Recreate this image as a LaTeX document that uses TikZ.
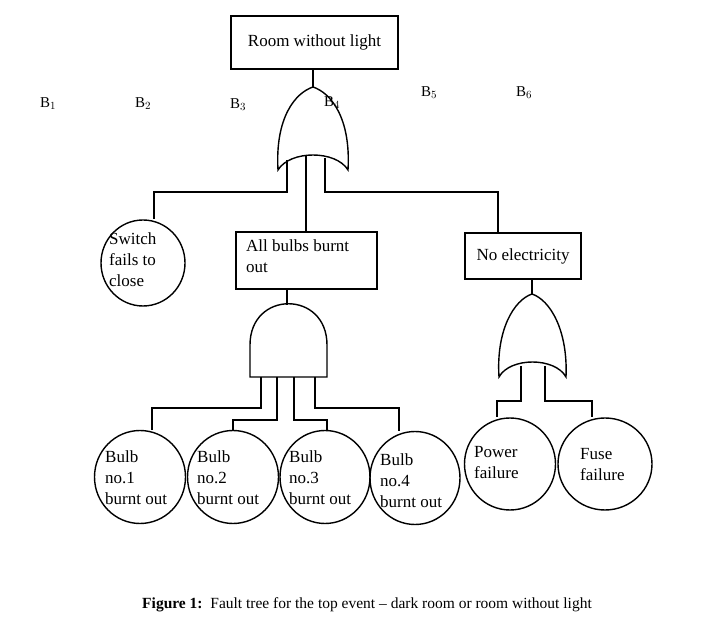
\documentclass[tikz,border=0pt]{standalone}
\usepackage{fontspec}
\setmainfont{Liberation Serif}
\usetikzlibrary{shapes.geometric}
\begin{document}
\begin{tikzpicture}[x=1pt,y=-1pt,
  ev/.style={rectangle, draw, line width=1.4pt, font=\fontsize{17}{18}\selectfont, inner sep=0pt},
  basic/.style={ellipse, draw, line width=1.4pt, minimum width=#1, minimum height=93pt, inner sep=0pt},
  txt/.style={font=\fontsize{17}{21}\selectfont, align=left, inner sep=0pt, anchor=north west},
  gate/.style={line width=1.4pt},
  conn/.style={line width=1.4pt},
  blab/.style={font=\fontsize{15}{16}\selectfont, inner sep=0pt}
]
\useasboundingbox (0,0) rectangle (721,617);

% events
\node[ev, minimum width=167pt, minimum height=53pt] (top) at (314.5,42.5) {Room without light};
\node[ev, minimum width=141pt, minimum height=57pt] (bulbs) at (306.5,260.5) {};
\node[txt] (bulbst) at (246,240) {All bulbs burnt\\out};
\node[ev, minimum width=116pt, minimum height=46pt] (noel) at (523,256) {No electricity};

\node[basic=84pt, minimum height=86pt] (sw) at (143,263) {};
\node[txt] (swt) at (109,233) {Switch\\fails to\\close};

\node[basic=91pt] (b1) at (140,477) {};
\node[basic=91pt] (b2) at (233,477) {};
\node[basic=90pt] (b3) at (325,477) {};
\node[basic=90pt] (b4) at (415,478) {};
\node[txt] (b1t) at (105,451) {Bulb\\no.1\\burnt out};
\node[txt] (b2t) at (197,451) {Bulb\\no.2\\burnt out};
\node[txt] (b3t) at (289,451) {Bulb\\no.3\\burnt out};
\node[txt] (b4t) at (380,454) {Bulb\\no.4\\burnt out};

\node[basic=91pt, minimum height=92pt] (pw) at (510,464) {};
\node[basic=94pt, minimum height=92pt] (fu) at (605,464) {};
\node[txt] (pwt) at (474,446) {Power\\failure};
\node[txt] (fut) at (580,448) {Fuse\\failure};

% B labels
\node[blab] (B1) at (48,104) {B$_1$};
\node[blab] (B2) at (143,104) {B$_2$};
\node[blab] (B3) at (238,105) {B$_3$};
\node[blab] (B4) at (332,103) {B$_4$};
\node[blab] (B5) at (429,93) {B$_5$};
\node[blab] (B6) at (524,93) {B$_6$};

% top OR gate
\draw[gate] (278,170) .. controls (275,118) and (295,93) .. (313,87)
  .. controls (331,93) and (351,118) .. (348,170)
  .. controls (336,150) and (290,150) .. (278,170) -- cycle;
\coordinate (g1in) at (313,87);
\coordinate (g1a) at (287,160);
\coordinate (g1b) at (306,155);
\coordinate (g1c) at (325,158);

% AND gate
\draw[gate] (250,377) -- (250,345) .. controls (250,290) and (327,290) .. (327,345) -- (327,377) -- cycle;
\coordinate (g2in) at (287,305);
\coordinate (g2a) at (261,377);
\coordinate (g2b) at (277,377);
\coordinate (g2c) at (294,377);
\coordinate (g2d) at (315,377);

% right OR gate
\draw[gate] (499,377) .. controls (496,330) and (514,300) .. (532,294)
  .. controls (550,300) and (568,330) .. (566,377)
  .. controls (555,357) and (510,357) .. (499,377) -- cycle;
\coordinate (g3in) at (532,294);
\coordinate (g3a) at (521,366);
\coordinate (g3b) at (545,366);

% connectors
\draw[conn] (top.south -| g1in) -- (g1in);
\draw[conn] (g1a) |- (154,192) -- (sw.north -| 154,0);
\draw[conn] (g1b) -- (bulbs.north -| g1b);
\draw[conn] (g1c) |- (498,192) -- (noel.north -| 498,0);
\draw[conn] (bulbs.south -| g2in) -- (g2in);
\draw[conn] (g2a) |- (152,408) -- (b1.north -| 152,0);
\draw[conn] (g2b) |- (233,420) -- (b2.north);
\draw[conn] (g2c) |- (327,420) -- (b3.north -| 327,0);
\draw[conn] (g2d) |- (399,408) -- (b4.north -| 399,0);
\draw[conn] (noel.south -| g3in) -- (g3in);
\draw[conn] (g3a) |- (497,401) -- (pw.north -| 497,0);
\draw[conn] (g3b) |- (592,401) -- (fu.north -| 592,0);

% caption
\node[font=\fontsize{15.5}{16}\selectfont, inner sep=0pt] (cap) at (367,605)
  {\textbf{Figure 1:}\ \ Fault tree for the top event -- dark room or room without light};
\end{tikzpicture}
\end{document}
